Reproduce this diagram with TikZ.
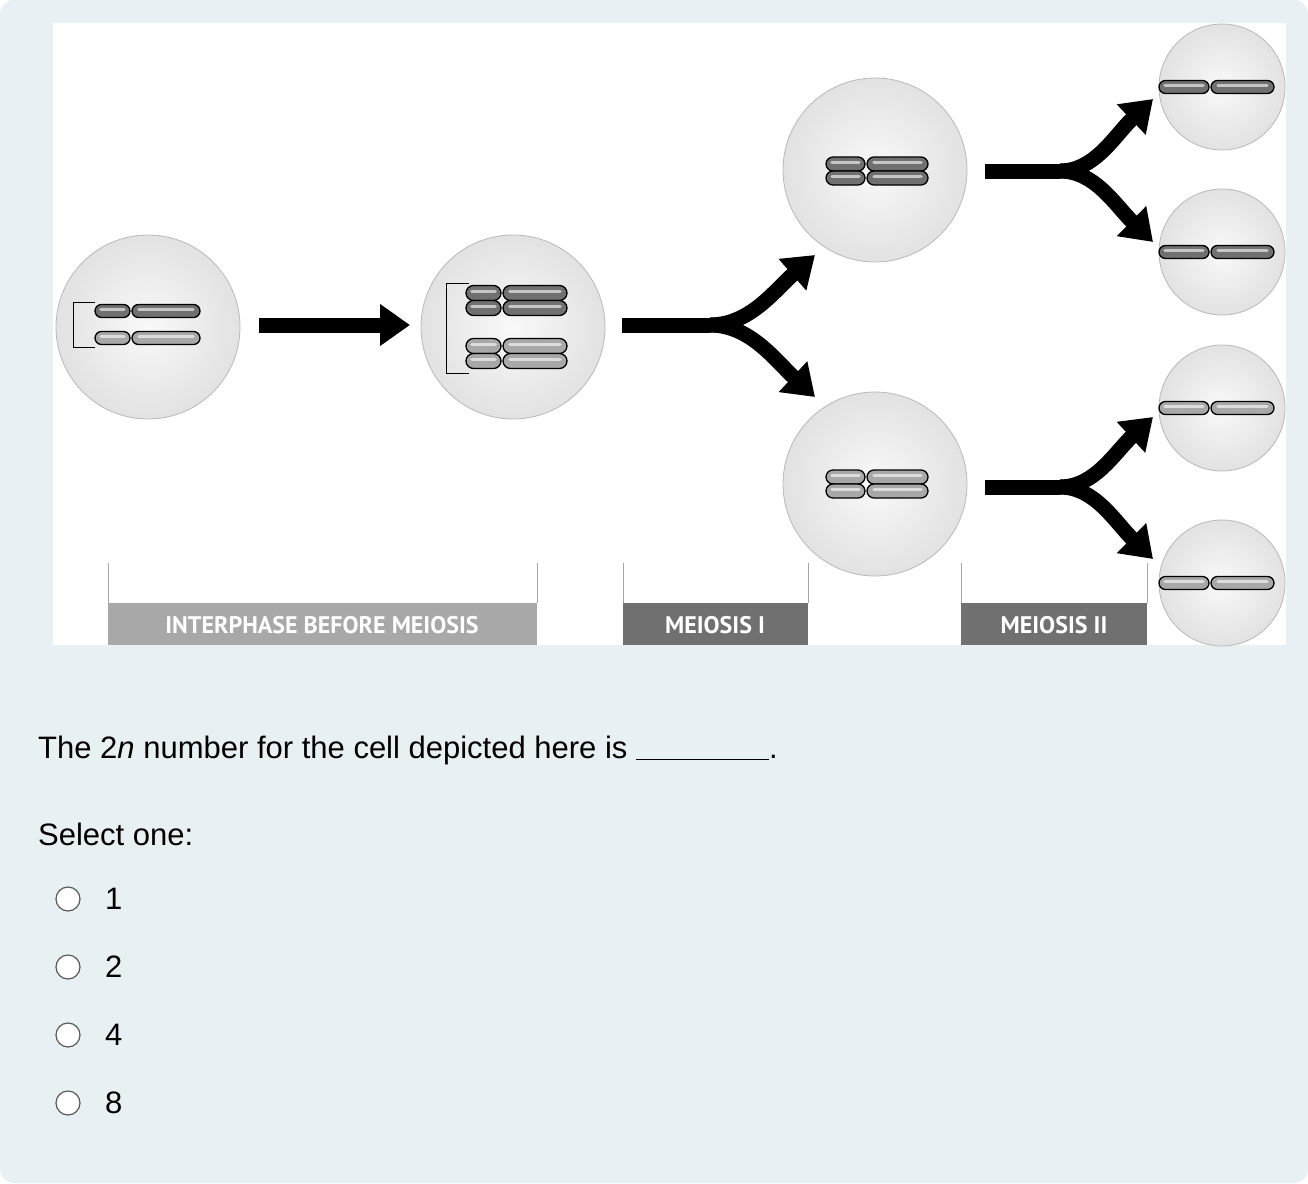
\documentclass[tikz,border=0pt]{standalone}
\usepackage{fontspec}
\setmainfont{Liberation Sans}
\newfontfamily\labfont{PT Sans}
\usetikzlibrary{arrows.meta}
\definecolor{bgc}{HTML}{E8F0F4}
\definecolor{cellc}{HTML}{E2E2E2}
\definecolor{dk}{HTML}{707070}
\definecolor{lt}{HTML}{A8A8A8}
\newcommand{\chrom}[6]{%
 \draw[line width=1.3pt,fill=#5,rounded corners=#6*0.5pt] (#1,#4-#6/2) rectangle (#2-1,#4+#6/2);
 \draw[line width=1.3pt,fill=#5,rounded corners=#6*0.5pt] (#2+1,#4-#6/2) rectangle (#3,#4+#6/2);
 \draw[white!60!#5,line width=#6*0.25pt,line cap=round] (#1+6,#4-#6*0.1) -- (#2-7,#4-#6*0.1) (#2+8,#4-#6*0.1) -- (#3-7,#4-#6*0.1);}
\tikzset{cell/.style={circle,draw=gray!55,line width=0.8pt,inner color=white!95!gray,outer color=cellc},
 big/.style={cell,minimum size=184pt},
 small/.style={cell,minimum size=126pt},
 fat/.style={line width=15pt},
 tip/.style={-{Triangle[length=30pt,width=40pt]}},
 bar/.style={text=white,font=\labfont\bfseries\fontsize{24pt}{28pt}\selectfont,inner sep=0pt},
 opt/.style={font=\fontsize{31pt}{36pt}\selectfont,anchor=west},
 radio/.style={circle,draw=gray!70!black,line width=1.2pt,fill=white,minimum size=24pt,inner sep=0pt}}
\begin{document}
\begin{tikzpicture}[x=1pt,y=-1pt]
\useasboundingbox (0,0) rectangle (1308,1183);
\fill[bgc,rounded corners=14pt] (0,0) rectangle (1308,1183);
\fill[white] (53,23) rectangle (1286,645);
% cells
\node[big] (c1) at (148,327) {};
\node[big] (c2) at (513,327) {};
\node[big] (c3) at (875,170) {};
\node[big] (c4) at (875,484) {};
\node[small] (d1) at (1222,87) {};
\node[small] (d2) at (1222,252) {};
\node[small] (d3) at (1222,408) {};
\node[small] (d4) at (1222,583) {};
% chromosomes
\chrom{95}{131}{200}{311}{dk}{13}
\chrom{95}{131}{200}{338}{lt}{13}
\draw[line width=1pt] (95,302) -- (73,302) -- (73,347) -- (95,347);
\chrom{466}{502}{567}{293}{dk}{15}
\chrom{466}{502}{567}{308}{dk}{15}
\chrom{466}{502}{567}{346}{lt}{15}
\chrom{466}{502}{567}{361}{lt}{15}
\draw[line width=1pt] (469,283) -- (446,283) -- (446,373) -- (469,373);
\chrom{826}{866}{928}{164}{dk}{14}
\chrom{826}{866}{928}{178}{dk}{14}
\chrom{826}{866}{928}{477}{lt}{14}
\chrom{826}{866}{928}{491}{lt}{14}
\chrom{1159}{1210}{1274}{87}{dk}{13}
\chrom{1159}{1210}{1274}{252}{dk}{13}
\chrom{1159}{1210}{1274}{408}{lt}{13}
\chrom{1159}{1210}{1274}{583}{lt}{13}
% arrows
\coordinate (a0) at (259,325); \coordinate (a1) at (410,325);
\draw[fat,tip] (a0) -- (a1);
\coordinate (f1) at (622,325); \coordinate (f1m) at (710,325);
\coordinate (f1u) at (815,255); \coordinate (f1d) at (815,397);
\draw[fat] (f1) -- (f1m);
\draw[fat,tip] (f1m) .. controls (750,325) and (775,290) .. (f1u);
\draw[fat,tip] (f1m) .. controls (750,325) and (775,360) .. (f1d);
\coordinate (f2) at (985,171); \coordinate (f2m) at (1060,171);
\coordinate (f2u) at (1153,99); \coordinate (f2d) at (1153,242);
\draw[fat] (f2) -- (f2m);
\draw[fat,tip] (f2m) .. controls (1095,171) and (1115,135) .. (f2u);
\draw[fat,tip] (f2m) .. controls (1095,171) and (1115,205) .. (f2d);
\coordinate (f3) at (985,487); \coordinate (f3m) at (1060,487);
\coordinate (f3u) at (1153,417); \coordinate (f3d) at (1153,559);
\draw[fat] (f3) -- (f3m);
\draw[fat,tip] (f3m) .. controls (1095,487) and (1115,452) .. (f3u);
\draw[fat,tip] (f3m) .. controls (1095,487) and (1115,522) .. (f3d);
% stage bars
\draw[gray!70,line width=1pt] (108,603) -- (108,563) (537,603) -- (537,563)
 (623,603) -- (623,563) (808,603) -- (808,563) (961,603) -- (961,563) (1147,603) -- (1147,563);
\fill[lt] (108,603) rectangle (537,645);
\fill[dk] (623,603) rectangle (808,645);
\fill[dk] (961,603) rectangle (1147,645);
\node[bar] (l1) at (322,625) {INTERPHASE BEFORE MEIOSIS};
\node[bar] (l2) at (715,625) {MEIOSIS I};
\node[bar] (l3) at (1054,625) {MEIOSIS II};
% question
\node[opt,inner sep=0pt] (q) at (38,750) {The 2\textit{n} number for the cell depicted here is \rule[-2pt]{133pt}{1.2pt}.};
\node[opt,inner sep=0pt] (s) at (38,834) {Select one:};
\foreach \y/\t [count=\i] in {899/1,967/2,1035/4,1103/8}{
 \node[radio] (r\i) at (68,\y) {};
 \node[opt,inner sep=0pt] (o\i) at (105,\y) {\t};}
\end{tikzpicture}
\end{document}
